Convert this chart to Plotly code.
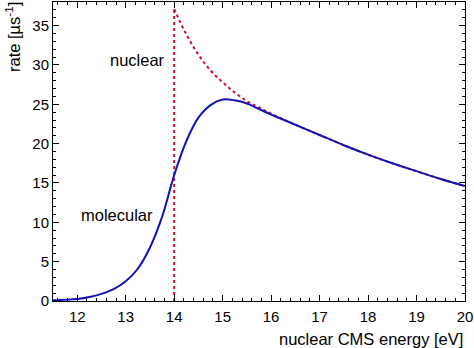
import plotly.graph_objects as go

# Molecular (blue) rate vs. nuclear CMS energy
molecular_energy = [11.5, 11.75, 12.0, 12.25, 12.5, 12.75, 13.0, 13.25, 13.5, 13.75, 14.0,
                    14.25, 14.5, 14.75, 15.0, 15.25, 15.5, 15.75, 16.0, 16.5, 17.0, 17.5,
                    18.0, 18.5, 19.0, 19.5, 20.0]
molecular_rate = [0.1, 0.15, 0.25, 0.5, 0.9, 1.5, 2.5, 4.1, 6.8, 10.7, 16.0,
                  20.3, 23.3, 24.9, 25.6, 25.5, 25.1, 24.4, 23.7, 22.4, 21.1, 19.8,
                  18.6, 17.5, 16.5, 15.5, 14.6]

# Nuclear (red dotted) rate: threshold at 14 eV
nuclear_energy = [14.0, 14.25, 14.5, 14.75, 15.0, 15.25, 15.5, 15.75, 16.0, 16.5,
                  17.0, 17.5, 18.0, 18.5, 19.0, 19.5, 20.0]
nuclear_rate = [37.1, 33.9, 31.3, 29.3, 27.8, 26.5, 25.4, 24.6, 23.8, 22.4,
                21.1, 19.8, 18.6, 17.5, 16.5, 15.5, 14.6]

x_ticks = [12, 13, 14, 15, 16, 17, 18, 19, 20]
y_ticks = [0, 5, 10, 15, 20, 25, 30, 35]

red = "#c8102e"
blue = "#1414b4"
font = "Liberation Sans, Arial, sans-serif"

fig = go.Figure()

# threshold edge of the nuclear curve
fig.add_trace(go.Scatter(
    x=[nuclear_energy[0], nuclear_energy[0]], y=[0, nuclear_rate[0]],
    mode="lines", line=dict(color=red, width=2, dash="dot"), showlegend=False))
fig.add_trace(go.Scatter(
    x=nuclear_energy, y=nuclear_rate, mode="lines", line_shape="spline",
    line=dict(color=red, width=2, dash="dot"), showlegend=False))
fig.add_trace(go.Scatter(
    x=molecular_energy, y=molecular_rate, mode="lines", line_shape="spline",
    line=dict(color=blue, width=2), showlegend=False))

axis_common = dict(
    showgrid=False, zeroline=False, showline=True, linecolor="black", linewidth=1,
    mirror="ticks", ticks="inside", ticklen=6, tickwidth=1, tickcolor="black",
    tickfont=dict(family=font, size=15, color="black"),
    ticklabeloverflow="allow",
)

fig.update_xaxes(range=[11.5, 20], tickvals=x_ticks, ticklabelstandoff=2,
                 minor=dict(ticks="inside", dtick=0.2, ticklen=3, tickcolor="black"),
                 **axis_common)
fig.update_yaxes(range=[0, 38], tickvals=y_ticks,
                 minor=dict(ticks="inside", dtick=1, ticklen=3, tickcolor="black"),
                 **axis_common)

fig.add_annotation(x=13.25, y=30.6, text="nuclear", showarrow=False,
                   font=dict(family=font, size=16.5, color="black"))
fig.add_annotation(x=12.82, y=10.9, text="molecular", showarrow=False,
                   font=dict(family=font, size=16.5, color="black"))

fig.add_annotation(x=1, y=0, xref="paper", yref="paper", xanchor="right", yanchor="top",
                   xshift=0, yshift=-27, text="nuclear CMS energy [eV]", showarrow=False,
                   font=dict(family=font, size=16.5, color="black"))
fig.add_annotation(x=0, y=1, xref="paper", yref="paper", xanchor="center", yanchor="top",
                   xshift=-40, yshift=2, text="rate [µs<sup>-1</sup>]", textangle=-90,
                   showarrow=False, font=dict(family=font, size=16.5, color="black"))

fig.update_layout(
    width=474, height=348,
    margin=dict(l=53, r=7, t=1, b=47),
    paper_bgcolor="white", plot_bgcolor="white",
)

fig.write_html("out.html")
